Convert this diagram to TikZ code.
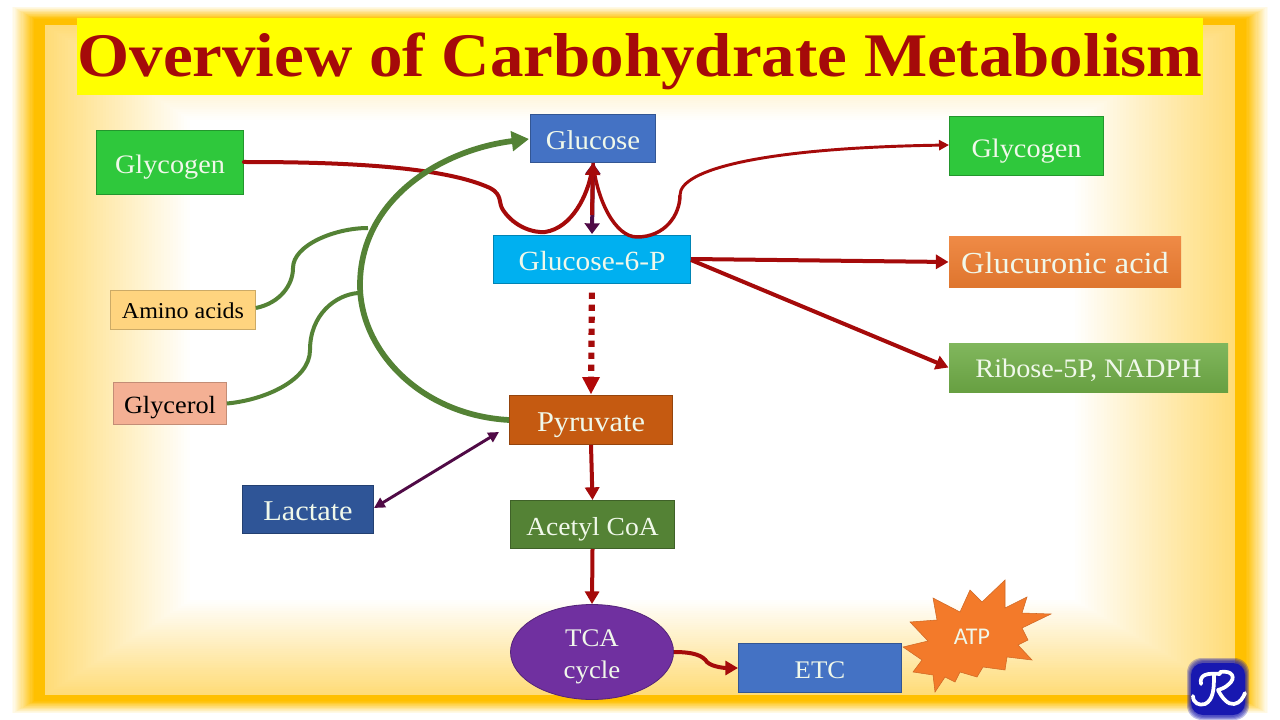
\documentclass[tikz,border=0pt]{standalone}
\usepackage{fontspec}
\usetikzlibrary{arrows.meta,shapes.geometric}
\setmainfont{Liberation Serif}[FakeStretch=1.06]
\newfontfamily\titlefont{Liberation Serif}[FakeStretch=1.08]
\newfontfamily\atpfont{Carlito}
\definecolor{glowgold}{HTML}{FFC000}
\definecolor{panelgold}{HTML}{FFDC78}
\definecolor{dred}{HTML}{A50A0A}
\definecolor{dgreen}{HTML}{548235}
\definecolor{dpurple}{HTML}{500A46}
\definecolor{paletext}{HTML}{F0F8EA}
\definecolor{titleyellow}{HTML}{FFFF00}
\definecolor{logoblue}{HTML}{1818B0}
\newcommand{\sz}[1]{\fontsize{#1}{24}\selectfont}
\tikzset{
  x=0.75pt,y=-0.75pt,
  box/.style={rectangle,draw=#1!75!black,fill=#1,line width=0.75pt,inner sep=0pt,text=paletext,text height=17pt,text depth=0pt},
  lightbox/.style={rectangle,draw=#1!80!black,fill=#1,line width=0.6pt,inner sep=0pt,text=black,text height=12.5pt,text depth=0pt},
  greenthin/.style={draw=dgreen,line width=3pt},
  redline/.style={draw=dred,line width=#1},
  bighead/.style={-{Triangle[length=9.5pt,width=10.5pt]}},
}
\begin{document}
\begin{tikzpicture}
\useasboundingbox (0,0) rectangle (1280,720);
% outer glow
\fill[white] (0,0) rectangle (1280,720);
\foreach \i in {0,...,40}{
  \pgfmathsetmacro{\t}{\i/40}
  \pgfmathsetmacro{\p}{100*min(1,max(0,(\t-0.25)/0.5))}
  \fill[glowgold!\p!white] ({45*\t},{25*\t}) rectangle ({1280-45*\t},{720-25*\t});
}
% inner panel
\foreach \i in {0,...,50}{
  \pgfmathsetmacro{\t}{\i/50}
  \pgfmathsetmacro{\p}{100*(1-\t)}
  \fill[panelgold!\p!white] ({45+145*\t},{25+95*\t}) rectangle ({1235-160*\t},{695-95*\t});
}
% title
\node[rectangle,fill=titleyellow,minimum width=1124*0.75pt,minimum height=77*0.75pt,inner sep=0pt,text=dred,text height=30pt,text depth=0pt] (title) at (640,56.5)
  {\titlefont\fontsize{46.5}{52}\selectfont\bfseries Overview of Carbohydrate Metabolism};
% boxes
\definecolor{cg}{HTML}{2FC83C}
\definecolor{cb}{HTML}{4472C4}
\definecolor{cc}{HTML}{00B0F0}
\definecolor{co}{HTML}{ED7D31}
\definecolor{cl}{HTML}{70AD47}
\definecolor{ca}{HTML}{FFD47F}
\definecolor{cy}{HTML}{F4B094}
\definecolor{cp}{HTML}{C55A11}
\definecolor{cn}{HTML}{2F5597}
\definecolor{ct}{HTML}{548235}
\definecolor{cv}{HTML}{7030A0}
\definecolor{cs}{HTML}{F37A2A}
\node[box=cg,minimum width=147*0.75pt,minimum height=64*0.75pt,font=\sz{20}] (glyL) at (170,162.5) {Glycogen};
\node[box=cb,minimum width=125*0.75pt,minimum height=48*0.75pt,font=\sz{20.4}] (glucose) at (593,138.5) {Glucose};
\node[box=cc,minimum width=197*0.75pt,minimum height=48*0.75pt,font=\sz{20.8}] (g6p) at (592,259.5) {Glucose-6-P};
\node[box=cg,minimum width=154*0.75pt,minimum height=59*0.75pt,font=\sz{20}] (glyR) at (1026.5,146) {Glycogen};
\node[box=co,minimum width=232*0.75pt,minimum height=50*0.75pt,draw=none,top color=co!90!white,bottom color=co!94!black,font=\sz{22.9},text height=16.5pt] (gluc) at (1065,262) {Glucuronic acid};
\node[box=cl,minimum width=279*0.75pt,minimum height=49*0.75pt,draw=none,top color=cl!88!white,bottom color=cl!92!black,font=\sz{20},text height=15.5pt] (rib) at (1088.5,367.5) {Ribose-5P, NADPH};
\node[lightbox=ca,minimum width=145*0.75pt,minimum height=39*0.75pt,font=\sz{17}] (amino) at (183,310) {Amino acids};
\node[lightbox=cy,minimum width=113*0.75pt,minimum height=42*0.75pt,font=\sz{18.6},text height=14.5pt] (glyc) at (170,403.5) {Glycerol};
\node[box=cp,minimum width=163*0.75pt,minimum height=49*0.75pt,font=\sz{21.5}] (pyr) at (591,420) {Pyruvate};
\node[box=cn,minimum width=131*0.75pt,minimum height=48*0.75pt,font=\sz{21.5}] (lac) at (308,509.5) {Lactate};
\node[box=ct,minimum width=164*0.75pt,minimum height=48*0.75pt,font=\sz{19.5}] (acetyl) at (592.5,524.5) {Acetyl CoA};
\node[ellipse,draw=cv!75!black,fill=cv,line width=0.6pt,minimum width=163*0.75pt,minimum height=95*0.75pt,inner sep=0pt,text=paletext,align=center,font=\sz{19}] (tca) at (592,652) {\rule{0pt}{19.8pt}TCA\\cycle};
\node[box=cb,minimum width=163*0.75pt,minimum height=49*0.75pt,font=\sz{19},text height=15.5pt] (etc) at (820,668) {ETC};
% ATP star
\fill[cs,draw=cs!85!black,line width=0.4pt]
 (903,647)--(928,641)--(910,622)--(937,620)--(933,598)--(960,612)--(970,590)--(982,602)--(1005,580)--(1005,608)--(1027,597)--(1022,613)--(1051,614)--(1022,628)--(1028,640)--(1018,645)--(1032,660)--(1007,657)--(1005,670)--(983,667)--(977,677)--(960,672)--(955,682)--(945,677)--(935,692)--(933,675)--(913,672)--(922,660)--cycle;
\node[text=paletext,font=\atpfont\fontsize{18}{20}\selectfont,inner sep=0pt] (atp) at (972,637) {ATP};
% helper coordinates
\coordinate (lacEnd) at (499,432);
\coordinate (lacStart) at (374,508);
\coordinate (gl) at (529,139);
\coordinate (amEnd) at (368,228);
\coordinate (glEnd) at (358,293);
\coordinate (glyLout) at (glyL.east|-245,162);
\coordinate (glyRin) at (glyR.west|-948,145);
\coordinate (amOut) at (amino.east|-256,308);
\coordinate (tcaOut) at (tca.east|-675,652);
% connectors
\draw[redline=3pt,line cap=round] (glyLout) .. controls (330,162) and (440,165) .. (490,188) .. controls (503,195) and (498,203) .. (503,210) .. controls (515,228) and (535,233) .. (545,232) .. controls (572,228) and (588,195) .. (592,170);
\draw[redline=2.6pt] (glucose.south) .. controls (597,200) and (615,237) .. (637,237) .. controls (665,237) and (680,215) .. (680,195);
\draw[redline=2.2pt,-{Triangle[length=7.5pt,width=7.5pt]}] (680,195) .. controls (680,170) and (760,148) .. (glyRin);
\draw[dpurple,line width=3pt,{Triangle[length=8pt,width=11pt]}-{Triangle[length=8pt,width=11pt]}] (glucose.south) -- (592,234);
\draw[redline=3pt,-{Triangle[length=9pt,width=11pt]}] (592,215) -- (glucose.south);
\draw[dgreen,line width=4.3pt,-{Triangle[length=13pt,width=14.5pt]}] (pyr.west) .. controls (420,415) and (360,350) .. (360,285) .. controls (360,200) and (440,150) .. (gl);
\draw[greenthin] (amOut) .. controls (280,303) and (293,285) .. (293,268) .. controls (293,245) and (335,228) .. (amEnd);
\draw[greenthin] (glyc.east) .. controls (265,400) and (310,380) .. (310,350) .. controls (310,315) and (335,295) .. (glEnd);
\draw[redline=3pt,bighead] (691,259) -- (gluc.west);
\draw[redline=3pt,bighead] (691,260) -- (rib.west);
\draw[draw=dred,line width=4.6pt,dash pattern=on 4.6pt off 4.4pt,shorten <=6.5pt,shorten >=12pt] (g6p.south) -- (pyr.north);
\fill[dred!85!red] (pyr.north) ++(0,-1) -- ++(-9,-17) -- ++(18,0) -- cycle;
\draw[redline=3pt,bighead] (pyr.south) -- (acetyl.north);
\draw[redline=3pt,bighead] (acetyl.south) -- (tca.north);
\draw[redline=3pt,bighead] (tcaOut) .. controls (695,652) and (703,656) .. (707,662) .. controls (712,667) and (725,668) .. (etc.west);
\draw[dpurple,line width=2.2pt,{Triangle[length=8pt,width=8pt]}-{Triangle[length=8pt,width=8pt]}] (lacStart) -- (lacEnd);
% logo
\foreach \i in {0,...,3}{
  \pgfmathsetmacro{\e}{3-\i}
  \fill[logoblue,opacity=0.28,rounded corners=11pt] ({1190-\e},{661-\e}) rectangle ({1246+\e},{717+\e});
}
\fill[logoblue,rounded corners=9pt] (1191,663) rectangle (1245,715);
\draw[white,line width=2.8pt,line cap=round,line join=round] (1201,684) .. controls (1199,674) and (1208,673) .. (1220,674) (1214,676) .. controls (1214,690) and (1213,700) .. (1205,704) .. controls (1199,706) and (1193,703) .. (1193,696);
\draw[white,line width=2.8pt,line cap=round,line join=round] (1220,672) .. controls (1233,670) and (1236,678) .. (1229,684) .. controls (1225,688) and (1221,689) .. (1218,690) .. controls (1222,698) and (1228,705) .. (1234,704) .. controls (1240,703) and (1243,698) .. (1245,693);
\end{tikzpicture}
\end{document}
